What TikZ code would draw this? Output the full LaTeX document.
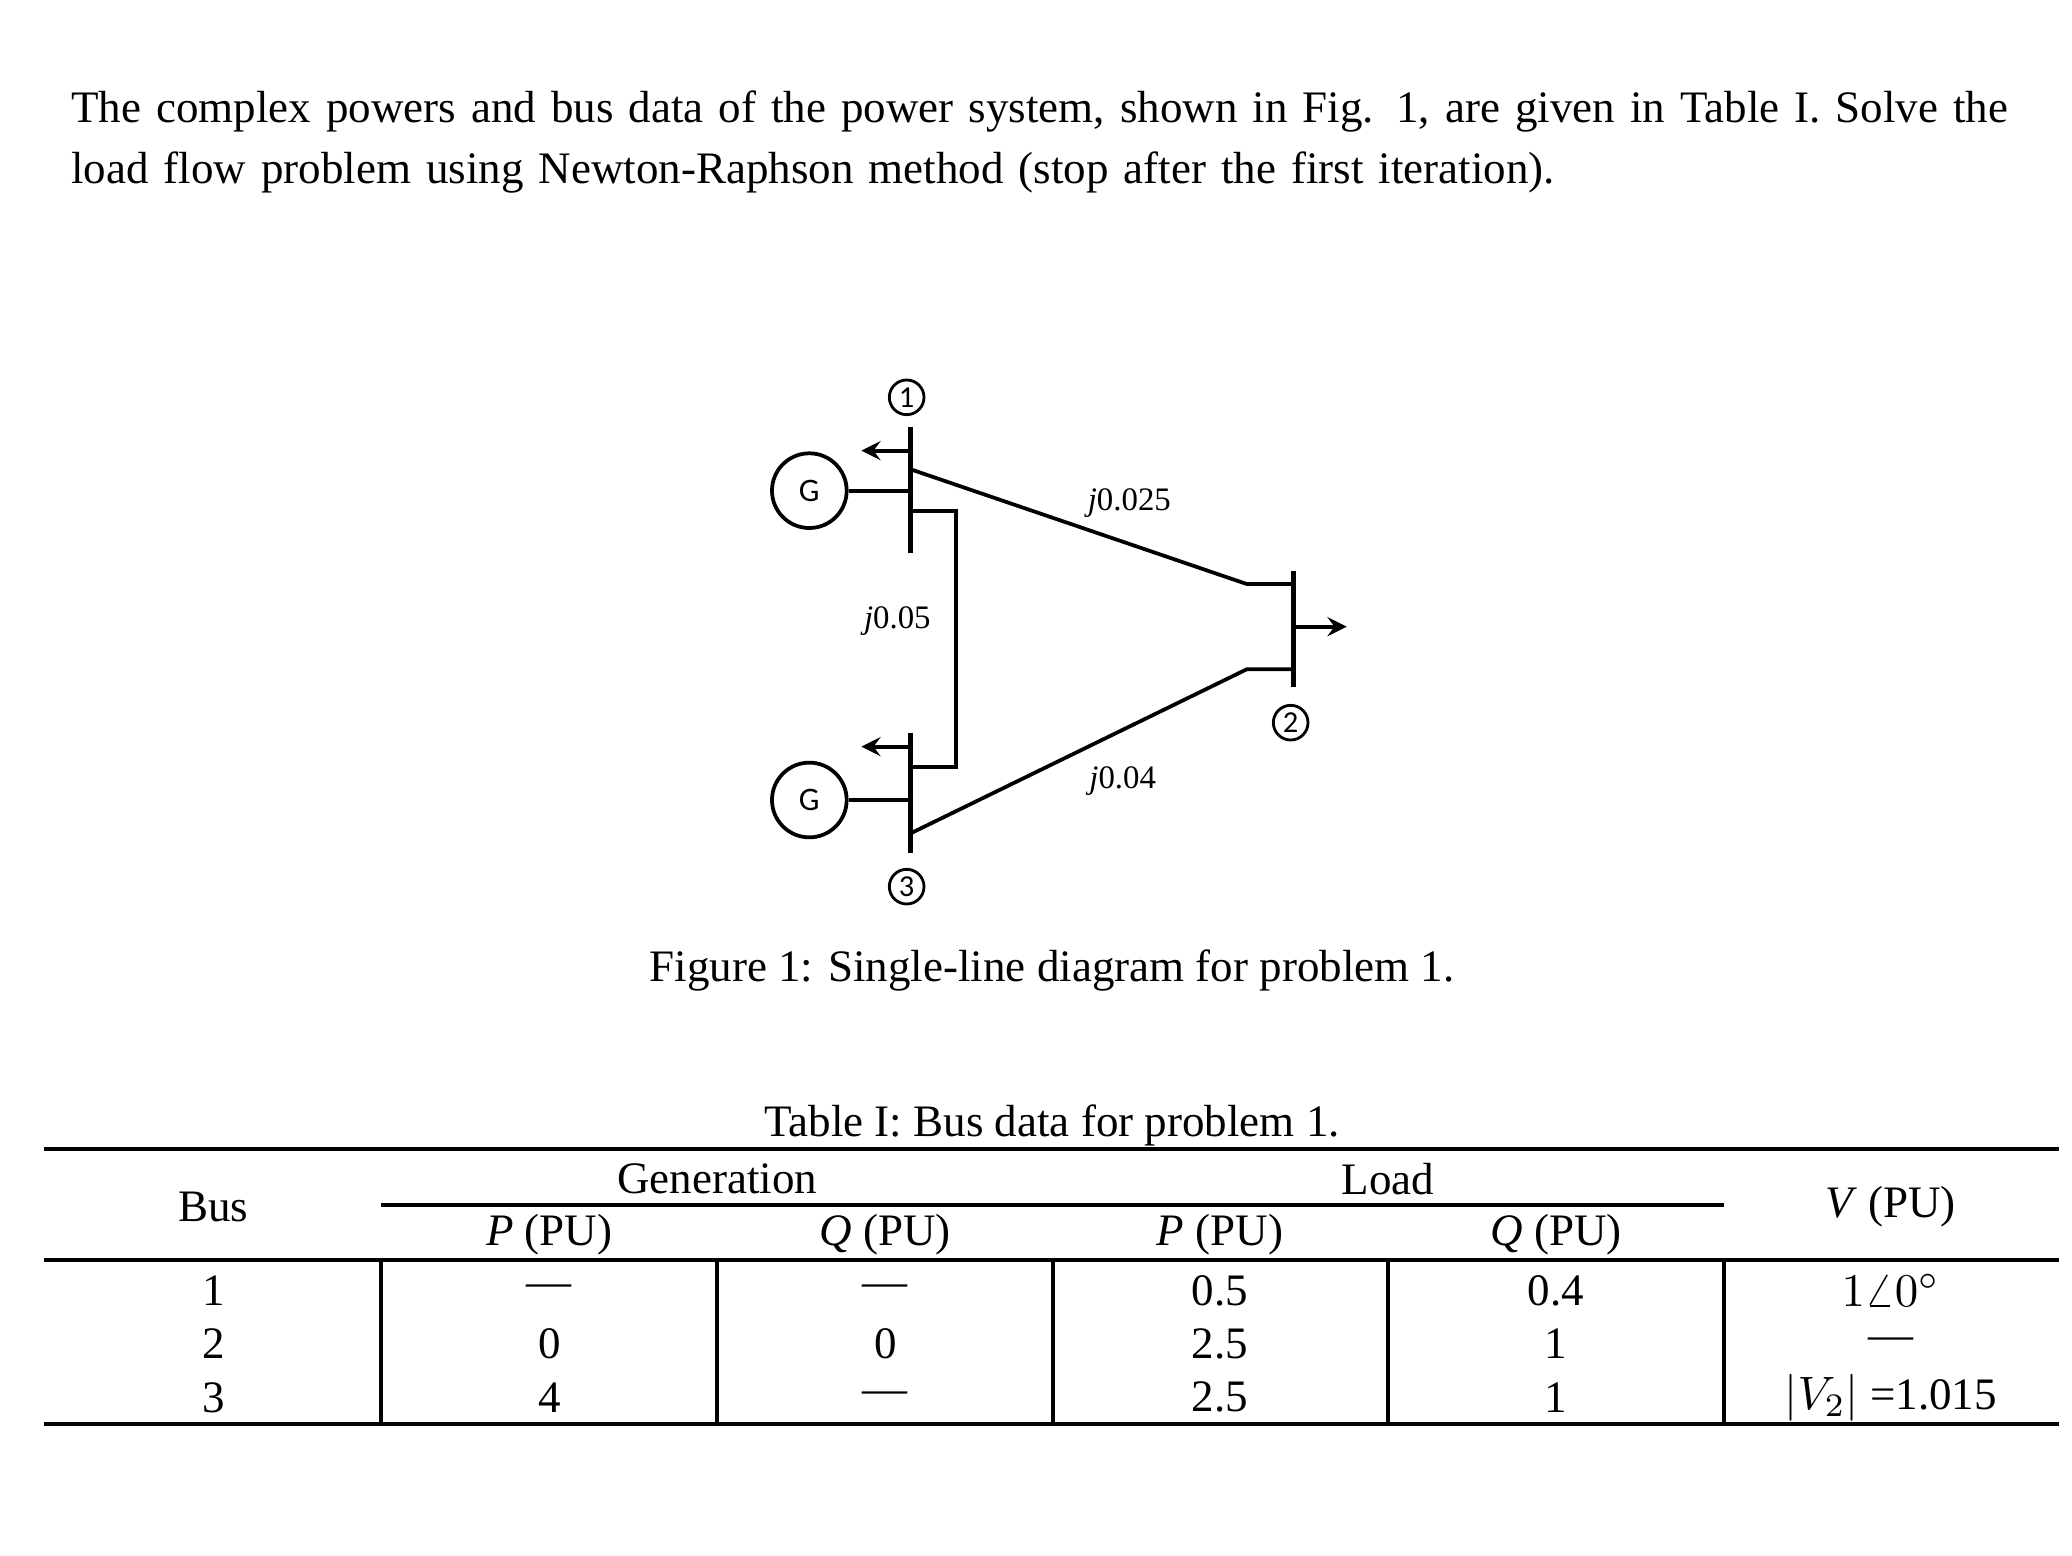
\documentclass[tikz,border=0pt]{standalone}
\usepackage{fontspec}
\setmainfont{Liberation Serif}
\newfontfamily\diagfont{Carlito}
\usetikzlibrary{positioning}

\begin{document}
\begin{tikzpicture}[x=0.01cm, y=-0.01cm, line width=0.8pt,
  every node/.style={font=\fontsize{9.6}{11}\selectfont, inner sep=0pt},
  busbar/.style={line width=1pt},
  gen/.style={draw, circle, minimum size=0.56cm, font=\diagfont\fontsize{7}{8}\selectfont},
  busnum/.style={draw, circle, line width=0.6pt, minimum size=0.26cm, font=\diagfont\fontsize{6.5}{7}\selectfont},
  imp/.style={font=\fontsize{7}{8}\selectfont},
  rule/.style={line width=0.8pt},
  cell/.style={anchor=center}]
\useasboundingbox (0,0) rectangle (1554,1167);

% problem statement
\node[anchor=base west, align=left, text width=15cm] (txt) at (52,92)
  {The complex powers and bus data of the power system, shown in Fig. 1, are given in Table I. Solve the\\[2pt]
   load flow problem using Newton-Raphson method (stop after the first iteration).};

% buses
\coordinate (b1t) at (683,320); \coordinate (b1b) at (683,415);
\coordinate (b2t) at (970,428); \coordinate (b2b) at (970,515);
\coordinate (b3t) at (683,550); \coordinate (b3b) at (683,640);
\draw[busbar] (b1t) -- (b1b);
\draw[busbar] (b2t) -- (b2b);
\draw[busbar] (b3t) -- (b3b);
\node[busnum] (n1) at (680,298) {1};
\node[busnum] (n2) at (968,542) {2};
\node[busnum] (n3) at (680,665) {3};

% generators and loads
\node[gen] (g1) at (607,368) {G};
\node[gen] (g3) at (607,600) {G};
\coordinate (g1b) at (683,368); \coordinate (g3b) at (683,600);
\draw (g1) -- (g1b);
\draw (g3) -- (g3b);
\coordinate (l1a) at (683,338); \coordinate (l1b) at (646,338);
\coordinate (l3a) at (683,560); \coordinate (l3b) at (646,560);
\coordinate (l2a) at (970,470); \coordinate (l2b) at (1010,470);
\draw[->, >=stealth] (l1a) -- (l1b);
\draw[->, >=stealth] (l3a) -- (l3b);
\draw[->, >=stealth] (l2a) -- (l2b);

% lines
\coordinate (p12) at (683,352); \coordinate (p21) at (970,438);
\coordinate (p23) at (970,502); \coordinate (p32) at (683,625);
\coordinate (p13) at (683,383); \coordinate (p31) at (683,575);
\draw (p12) -- (935,438) -- (p21);
\draw (p23) -- (935,502) -- (p32);
\draw (p13) -| (717,575) -- (p31);
\node[imp] (z12) at (847,377) {\textit{j}0.025};
\node[imp] (z23) at (842,586) {\textit{j}0.04};
\node[imp] (z13) at (673,466) {\textit{j}0.05};

\node (cap) at (789,728) {Figure 1: Single-line diagram for problem 1.};

% table
\node (tcap) at (789,844) {Table I: Bus data for problem 1.};
\draw[rule] (33,862) -- (1544,862);
\draw[rule] (286,904) -- (1293,904);
\draw[rule] (33,945) -- (1544,945);
\draw[rule] (33,1068) -- (1544,1068);
\foreach \x in {286,538,790,1041,1293}
  \draw[rule] (\x,945) -- (\x,1068);

\node[cell] (hbus) at (160,905) {Bus};
\node[cell] (hgen) at (538,884) {Generation};
\node[cell] (hload) at (1041,884) {Load};
\node[cell] (hv) at (1418,905) {\textit{V} (PU)};
\node[cell] (hpg) at (412,926) {\textit{P} (PU)};
\node[cell] (hqg) at (664,926) {\textit{Q} (PU)};
\node[cell] (hpl) at (915,926) {\textit{P} (PU)};
\node[cell] (hql) at (1167,926) {\textit{Q} (PU)};

\foreach \y/\a/\b/\c/\d/\e/\f in {968/1/---/---/0.5/0.4/{$1\angle0^\circ$},
                                 1008/2/0/0/2.5/1/---,
                                 1048/3/4/---/2.5/1/{$|V_2|$ =1.015}} {
  \node[cell] at (160,\y) {\a};
  \node[cell] at (412,\y) {\b};
  \node[cell] at (664,\y) {\c};
  \node[cell] at (915,\y) {\d};
  \node[cell] at (1167,\y) {\e};
  \node[cell] at (1418,\y) {\f};
}
\end{tikzpicture}
\end{document}
